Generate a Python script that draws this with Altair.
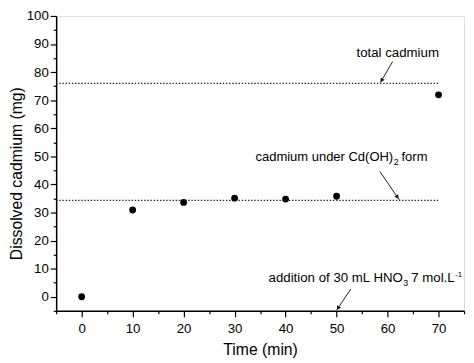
import altair as alt
import pandas as pd

# ---- data ----
time_min = [0, 10, 20, 30, 40, 50, 70]
cadmium_mg = [0.0, 30.9, 33.6, 35.1, 34.8, 35.8, 71.9]

x_major = [0, 10, 20, 30, 40, 50, 60, 70]
x_minor = [-5, 5, 15, 25, 35, 45, 55, 65, 75]
y_major = [0, 10, 20, 30, 40, 50, 60, 70, 80, 90, 100]
y_minor = [-5, 5, 15, 25, 35, 45, 55, 65, 75, 85, 95]

ref_levels = [76.0, 34.3]
ref_x_start = [-5, -5]
ref_x_end = [70, 70]

# arrows (data coordinates): start -> tip
arrow_x1 = [61.0, 58.5, 52.8]
arrow_y1 = [83.8, 44.6, 2.8]
arrow_x2 = [58.6, 62.3, 50.0]
arrow_y2 = [76.3, 34.5, -4.8]
arrow_angle = [211, 147, 214]

# annotation text pieces
txt_x = [53.9, 61.1, 61.1, 61.1, 63.0, 63.0, 63.0, 63.0]
txt_y = [85.5, 48.5, 48.5, 48.5, 5.2, 5.2, 5.2, 5.2]
txt = ["total cadmium", "cadmium under Cd(OH)", "2", "form",
       "addition of 30 mL HNO", "3", "7 mol.L", "-1"]
txt_align = ["left", "right", "left", "left", "right", "left", "left", "left"]
txt_dx = [0, 0, 0.5, 8.5, 0, 0.5, 8.5, 53.3]
txt_dy = [0, 0, 4, 0, 0, 4, 0, -5]
txt_size = [13.5, 13.2, 9, 13.2, 13.5, 9, 13.5, 8]

FONT = "Liberation Sans"
XD = [-5, 75]
YD = [-5, 100]
W, H = 415, 300

pts = pd.DataFrame({"t": time_min, "cd": cadmium_mg})
refs = pd.DataFrame({"x": ref_x_start, "x2": ref_x_end, "y": ref_levels})
arr = pd.DataFrame({"x": arrow_x1, "y": arrow_y1, "x2": arrow_x2, "y2": arrow_y2,
                    "ang": arrow_angle})
arr["hx"] = arr["x2"] - 0.1 * (arr["x2"] - arr["x"])
arr["hy"] = arr["y2"] - 0.1 * (arr["y2"] - arr["y"])

xs = alt.Scale(domain=XD, nice=False, zero=False)
ys = alt.Scale(domain=YD, nice=False, zero=False)

points = alt.Chart(pts).mark_point(filled=True, color="black", size=48, opacity=1).encode(
    x=alt.X("t:Q", scale=xs, axis=alt.Axis(
        orient="bottom", values=x_major, tickSize=6, tickWidth=1.2, tickColor="black",
        domainColor="black", domainWidth=1.5, labelFont=FONT, labelFontSize=13.5,
        labelColor="black", labelPadding=5, grid=False, title="Time (min)",
        titleFont=FONT, titleFontSize=16, titleFontWeight="normal", titleColor="black",
        titleY=44, titleBaseline="alphabetic", titleX=W / 2, titleAlign="center")),
    y=alt.Y("cd:Q", scale=ys, axis=alt.Axis(
        orient="left", values=y_major, tickSize=6, tickWidth=1.2, tickColor="black",
        domainColor="black", domainWidth=1.5, labelFont=FONT, labelFontSize=13.5,
        labelColor="black", labelPadding=2, grid=False, title="Dissolved cadmium (mg)",
        titleFont=FONT, titleFontSize=16, titleFontWeight="normal", titleColor="black",
        titleAngle=270, titleX=-40, titleY=160, titleAlign="center",
        titleBaseline="middle")),
)

minor = alt.Chart(pts).mark_point(opacity=0).encode(
    x=alt.X("t:Q", scale=xs, axis=alt.Axis(
        orient="bottom", values=x_minor, tickSize=3, tickWidth=1.2, tickColor="black",
        labels=False, domain=False, grid=False, title=None)),
    y=alt.Y("cd:Q", scale=ys, axis=alt.Axis(
        orient="left", values=y_minor, tickSize=3, tickWidth=1.2, tickColor="black",
        labels=False, domain=False, grid=False, title=None)),
)

lines = alt.Chart(refs).mark_rule(color="#222222", strokeWidth=1.2, strokeDash=[1.4, 1.8]).encode(
    x=alt.X("x:Q", scale=xs, axis=None), x2="x2:Q",
    y=alt.Y("y:Q", scale=ys, axis=None),
)

arrows = alt.Chart(arr).mark_rule(color="#222222", strokeWidth=1).encode(
    x=alt.X("x:Q", scale=xs, axis=None), x2="x2:Q",
    y=alt.Y("y:Q", scale=ys, axis=None), y2="y2:Q",
)

heads = alt.Chart(arr).mark_point(shape="triangle-up", filled=True, color="#111111",
                                  size=22, opacity=1).encode(
    x=alt.X("hx:Q", scale=xs, axis=None),
    y=alt.Y("hy:Q", scale=ys, axis=None),
    angle=alt.Angle("ang:Q", scale=None),
)

text_layers = []
for i in range(len(txt)):
    d = pd.DataFrame({"x": [txt_x[i]], "y": [txt_y[i]], "t": [txt[i]]})
    text_layers.append(
        alt.Chart(d).mark_text(font=FONT, fontSize=txt_size[i], align=txt_align[i],
                               baseline="alphabetic", dx=txt_dx[i], dy=txt_dy[i],
                               color="black").encode(
            x=alt.X("x:Q", scale=xs, axis=None),
            y=alt.Y("y:Q", scale=ys, axis=None),
            text="t:N",
        )
    )

chart = alt.layer(lines, arrows, heads, *text_layers, points, minor).resolve_axis(
    x="independent", y="independent"
).properties(
    width=W, height=H,
    autosize=alt.AutoSizeParams(type="none"),
    padding={"left": 49, "top": 5, "right": 2, "bottom": 50},
).configure_view(stroke="black", strokeWidth=1.5).configure(background="white")

chart.save("out.html", embed_options={"renderer": "svg", "actions": False})
